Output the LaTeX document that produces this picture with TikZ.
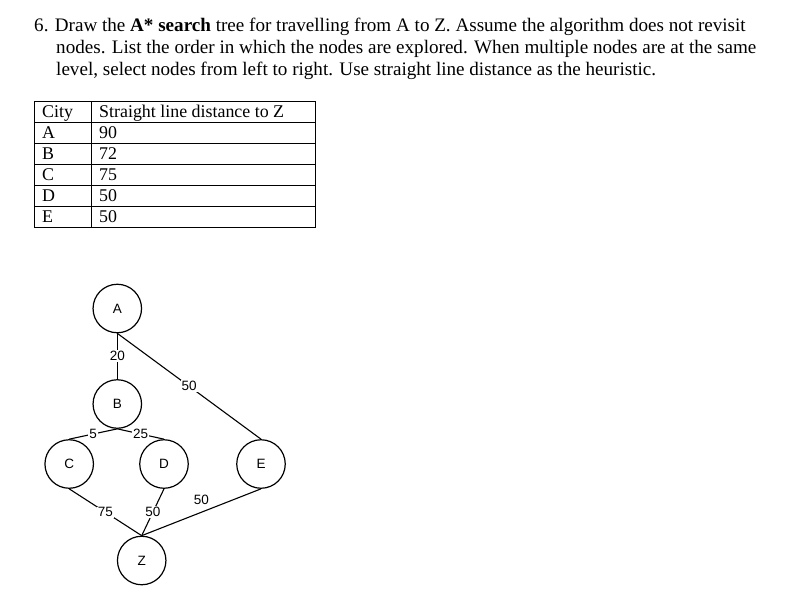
\documentclass[tikz,border=0pt]{standalone}
\usepackage{fontspec}
\setmainfont{Liberation Serif}
\newfontfamily\diagfont{Liberation Sans}
\begin{document}
\begin{tikzpicture}[x=1pt,y=-1pt,
  txt/.style={anchor=base west,inner sep=0pt,font=\fontsize{19.1}{22}\selectfont},
  cell/.style={anchor=base west,inner sep=0pt,font=\fontsize{17.9}{21}\selectfont},
  city/.style={circle,draw,line width=1.2pt,minimum size=48.5pt,inner sep=0pt,font=\diagfont\fontsize{13.5}{15}\selectfont},
  edge/.style={line width=1.1pt},
  lbl/.style={fill=white,inner sep=1pt,font=\diagfont\fontsize{13.5}{15}\selectfont},
  grid/.style={line width=0.9pt}]
\useasboundingbox (0,0) rectangle (804,603);
% question text
\node[txt] (l1) at (34,31) {6. Draw the \textbf{A* search} tree for travelling from A to Z. Assume the algorithm does not revisit};
\node[txt] (l2) at (56,53) {nodes. List the order in which the nodes are explored. When multiple nodes are at the same};
\node[txt] (l3) at (56,75) {level, select nodes from left to right. Use straight line distance as the heuristic.};
% table
\draw[grid] (34,101) rectangle (315,227);
\foreach \yy in {122,143,164,185,206} \draw[grid] (34,\yy) -- (315,\yy);
\draw[grid] (91,101) -- (91,227);
\node[cell] (h1) at (42,117.5) {City};
\node[cell] (h2) at (99,117.5) {Straight line distance to Z};
\node[cell] (ca) at (42,138.5) {A};  \node[cell] (va) at (99,138.5) {90};
\node[cell] (cb) at (42,159.5) {B};  \node[cell] (vb) at (99,159.5) {72};
\node[cell] (cc) at (42,180.5) {C};  \node[cell] (vc) at (99,180.5) {75};
\node[cell] (cd) at (42,201.5) {D};  \node[cell] (vd) at (99,201.5) {50};
\node[cell] (ce) at (42,222.5) {E};  \node[cell] (ve) at (99,222.5) {50};
% tree
\node[city] (A) at (117.3,308.5) {A};
\node[city] (B) at (117.3,404) {B};
\node[city] (C) at (69.2,464) {C};
\node[city] (D) at (164,464) {D};
\node[city] (E) at (261,464) {E};
\node[city] (Z) at (141.7,560.5) {Z};
\draw[edge] (A.south) -- node[lbl] {20} (B.north);
\draw[edge] (A.south) -- node[lbl] {50} (E.north);
\draw[edge] (B.south) -- node[lbl] {5} (C.north);
\draw[edge] (B.south) -- node[lbl] {25} (D.north);
\draw[edge] (C.south) -- node[lbl] {75} (Z.north);
\draw[edge] (D.south) -- node[lbl] {50} (Z.north);
\draw[edge] (E.south) -- node[lbl,fill=none,yshift=12pt] {50} (Z.north);
\end{tikzpicture}
\end{document}
